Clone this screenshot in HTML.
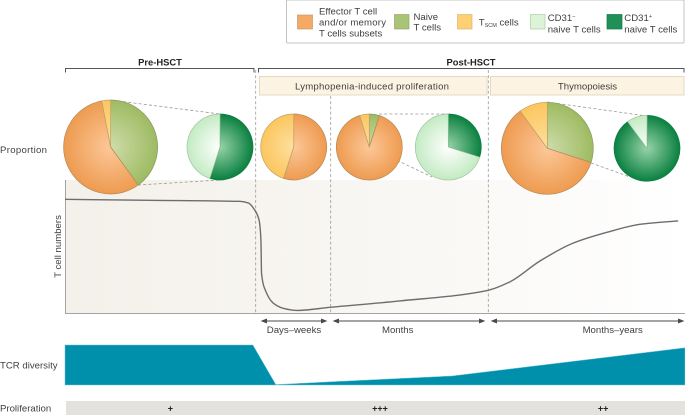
<!DOCTYPE html>
<html lang="en">
<head>
<meta charset="utf-8">
<title>T cell reconstitution after HSCT</title>
<style>
html,body{margin:0;padding:0;background:#fff;}
svg{display:block;font-family:"Liberation Sans",sans-serif;}
text{fill:#3f3f3f;font-size:9.6px;}
.b{font-weight:bold;fill:#222;font-size:9.4px;}
.dash{stroke:#9a9a96;stroke-width:.8;stroke-dasharray:3 2.2;fill:none;}
</style>
</head>
<body>
<svg id="chart" width="685" height="415" viewBox="0 0 685 415" xmlns="http://www.w3.org/2000/svg">
  <defs id="defs">
    <linearGradient id="bgGrad" x1="0" x2="1" y1="0" y2="0">
      <stop offset="0" stop-color="#f4f0ea"/>
      <stop offset=".45" stop-color="#f8f6f2"/>
      <stop offset=".72" stop-color="#fbfaf8"/>
      <stop offset="1" stop-color="#ffffff"/>
    </linearGradient>
  </defs>

  <g>
    <rect x="286.5" y="0" width="397.5" height="43" rx="1" fill="#fff" stroke="#c4c4c0" stroke-width="1"/>
    <rect x="297.5" y="15" width="15" height="14" fill="#f4a964" stroke="#c79a6b" stroke-width=".7"/>
    <text><tspan x="319" y="14.5">Effector T cell</tspan><tspan x="319" y="25.5" textLength="67">and/or memory</tspan><tspan x="319" y="36.5">T cells subsets</tspan></text>
    <rect x="394.5" y="14.5" width="14.5" height="14.5" fill="#a9c377" stroke="#93a96b" stroke-width=".7"/>
    <text><tspan x="413.5" y="20">Naive</tspan><tspan x="413.5" y="30.5">T cells</tspan></text>
    <rect x="457.5" y="14.5" width="14.5" height="14.5" fill="#fdd072" stroke="#dcb678" stroke-width=".7"/>
    <text x="478.7" y="25.5">T<tspan font-size="5.5" dy="1.5">SCM</tspan><tspan dy="-1.5"> cells</tspan></text>
    <rect x="530.5" y="14.5" width="14.5" height="14.5" fill="#dcf3d8" stroke="#a9cfa6" stroke-width=".7"/>
    <text><tspan x="547.7" y="21">CD31</tspan><tspan font-size="5.5" dy="-3">–</tspan><tspan x="547.7" y="32.5">naive T cells</tspan></text>
    <rect x="607" y="14.5" width="15" height="14.5" fill="#1f9058" stroke="#107a45" stroke-width=".7"/>
    <text><tspan x="624.3" y="21">CD31</tspan><tspan font-size="5.5" dy="-3">+</tspan><tspan x="624.3" y="32.5">naive T cells</tspan></text>
  </g>

  <g>
    <text class="b" x="160" y="65.5" text-anchor="middle">Pre-HSCT</text>
    <text class="b" x="471" y="65.5" text-anchor="middle">Post-HSCT</text>
    <path d="M65.5 72.5V68.5H254V72.5" fill="none" stroke="#555" stroke-width="1"/>
    <path d="M258.5 72.5V68.5H684V72.5" fill="none" stroke="#555" stroke-width="1"/>
    <rect x="259.5" y="76.5" width="227.5" height="18.5" fill="#fdf3e2" stroke="#ddd2b8" stroke-width=".8"/>
    <text x="295" y="89.5" textLength="154">Lymphopenia-induced proliferation</text>
    <rect x="490.5" y="76.5" width="193.5" height="18.5" fill="#fdf3e2" stroke="#ddd2b8" stroke-width=".8"/>
    <text x="587.5" y="89.5" text-anchor="middle">Thymopoiesis</text>
  </g>

  <text x="0" y="153" textLength="47">Proportion</text>
  <text transform="translate(61 246.5) rotate(-90)" text-anchor="middle">T cell numbers</text>
  <text x="0" y="368.5">TCR diversity</text>
  <text x="0" y="411.5">Proliferation</text>

  <rect x="65" y="180" width="620" height="133.5" fill="url(#bgGrad)"/>
  <path d="M65.5 180V313.5H685" fill="none" stroke="#a3a3a0" stroke-width="1"/>

  <g>
    <path class="dash" d="M255.7 70V313"/>
    <path class="dash" d="M330.7 96V313"/>
    <path class="dash" d="M488.3 70V313"/>
  </g>

  <g>
    <path class="dash" d="M118 101L220 114"/>
    <path class="dash" d="M138 185L220 180"/>
    <path class="dash" d="M379 114L448 114"/>
    <path class="dash" d="M369 147L432 177"/>
    <path class="dash" d="M547 102L647 116"/>
    <path class="dash" d="M591 163L630 177"/>
  </g>

  <g id="pies"></g>
  <g id="curve"></g>

  <g stroke="#4a4a4a" stroke-width="1" fill="#4a4a4a">
    <path d="M262 321H326M262 321l4.5-1.8v3.6zM326 321l-4.5-1.8v3.6z"/>
    <path d="M334 321H484M334 321l4.5-1.8v3.6zM484 321l-4.5-1.8v3.6z"/>
    <path d="M492 321H683M492 321l4.5-1.8v3.6zM683 321l-4.5-1.8v3.6z"/>
  </g>
  <text x="294" y="333" text-anchor="middle">Days–weeks</text>
  <text x="397.7" y="333" text-anchor="middle">Months</text>
  <text x="612.7" y="333" text-anchor="middle">Months–years</text>

  <g id="tcr"></g>

  <rect x="66" y="401" width="619" height="14" fill="#e3e2de"/>
  <g id="prolif"></g>

<script>
// T cell numbers over relative time (0-100)
const curveTime = [0, 13.7, 28.2, 29.6, 30.6, 31.3, 31.6, 31.7, 32.3, 33.6, 35.2, 37.4, 42.7, 54, 68, 71.8, 76.6, 81.9, 87.4, 92.7, 95.9, 98.9];
const curveCount = [85.5, 84.8, 84, 82.7, 77.5, 70, 55, 30.2, 17.6, 7.7, 3.9, 2.3, 4.6, 9.4, 17.1, 23.8, 39.3, 52.6, 60.8, 66.8, 68.3, 69.3];
// TCR diversity over relative time
const tcrTime = [0, 30.3, 34, 44.2, 62.4, 100];
const tcrDiversity = [100, 100, 1, 9, 22.5, 93];
// Proliferation grades
const prolifTime = [17, 50.8, 86.8];
const prolifLabels = ['+', '+++', '++'];
// Pie slices, clockwise from 12 o'clock
const preTotalCats = ['naive', 'effector', 'tscm'];
const preTotalVals = [40, 57, 3];
const preNaiveCats = ['cd31pos', 'cd31neg'];
const preNaiveVals = [55, 45];
const daysTotalCats = ['effector', 'tscm'];
const daysTotalVals = [55, 45];
const monthsTotalCats = ['naive', 'effector', 'tscm'];
const monthsTotalVals = [5, 90.3, 4.7];
const monthsNaiveCats = ['cd31pos', 'cd31neg'];
const monthsNaiveVals = [30, 70];
const yearsTotalCats = ['naive', 'effector', 'tscm'];
const yearsTotalVals = [30, 60, 10];
const yearsNaiveCats = ['cd31pos', 'cd31neg'];
const yearsNaiveVals = [90, 10];

const NS = 'http://www.w3.org/2000/svg';
const xScale = t => 65 + t * 6.2;
const yCount = v => 313.5 - v * 1.335;
const yTcr = v => 385 - v * 0.4;

const sliceColors = {
  effector: ['#fcc899', '#ee9b50', '#b58a58'],
  naive: ['#cfdcaa', '#9dbb62', '#8a9a60'],
  tscm: ['#fde0a0', '#fcc65e', '#c0a268'],
  cd31neg: ['#ffffff', '#c3ebc3', '#a0c4a0'],
  cd31pos: ['#97d3a8', '#0a8040', '#0f8045']
};

let gradId = 0;
function makeGradient(cx, cy, r, cat) {
  const g = document.createElementNS(NS, 'radialGradient');
  const id = 'g' + (gradId++);
  g.setAttribute('id', id);
  g.setAttribute('gradientUnits', 'userSpaceOnUse');
  g.setAttribute('cx', cx);
  g.setAttribute('cy', cy);
  g.setAttribute('r', r);
  [[0, sliceColors[cat][0]], [1, sliceColors[cat][1]]].forEach(function (s) {
    const st = document.createElementNS(NS, 'stop');
    st.setAttribute('offset', s[0]);
    st.setAttribute('stop-color', s[1]);
    g.appendChild(st);
  });
  document.getElementById('defs').appendChild(g);
  return id;
}

function drawPie(name, cx, cy, r, cats, vals) {
  const holder = document.getElementById('pies');
  const group = document.createElementNS(NS, 'g');
  
  
  holder.appendChild(group);
  const total = vals.reduce((a, b) => a + b, 0);
  let acc = 0;
  vals.forEach(function (v, i) {
    const a0 = acc / total * 2 * Math.PI;
    acc += v;
    const a1 = acc / total * 2 * Math.PI;
    const x0 = cx + r * Math.sin(a0), y0 = cy - r * Math.cos(a0);
    const x1 = cx + r * Math.sin(a1), y1 = cy - r * Math.cos(a1);
    const large = a1 - a0 > Math.PI ? 1 : 0;
    const p = document.createElementNS(NS, 'path');
    p.setAttribute('d', 'M' + cx + ' ' + cy + 'L' + x0 + ' ' + y0 + 'A' + r + ' ' + r + ' 0 ' + large + ' 1 ' + x1 + ' ' + y1 + 'Z');
    p.setAttribute('fill', 'url(#' + makeGradient(cx, cy, r, cats[i]) + ')');
    p.setAttribute('stroke', sliceColors[cats[i]][2]);
    p.setAttribute('stroke-width', '0.7');
    
    
    group.appendChild(p);
  });
}

drawPie('pie-pre-hsct-total', 110.6, 147, 47, preTotalCats, preTotalVals);
drawPie('pie-pre-hsct-naive', 220, 147, 33, preNaiveCats, preNaiveVals);
drawPie('pie-days-weeks-total', 293.7, 147, 33, daysTotalCats, daysTotalVals);
drawPie('pie-months-total', 369.3, 147, 33, monthsTotalCats, monthsTotalVals);
drawPie('pie-months-naive', 448.3, 147, 33, monthsNaiveCats, monthsNaiveVals);
drawPie('pie-years-total', 547.3, 148.3, 46, yearsTotalCats, yearsTotalVals);
drawPie('pie-years-naive', 647, 148.3, 33, yearsNaiveCats, yearsNaiveVals);

// T cell number line: monotone cubic through the data points
(function () {
  const xs = curveTime.map(xScale);
  const ys = curveCount.map(yCount);
  const n = xs.length;
  const sec = [];
  for (let i = 0; i < n - 1; i++) sec.push((ys[i + 1] - ys[i]) / (xs[i + 1] - xs[i]));
  const m = [sec[0]];
  for (let i = 1; i < n - 1; i++) {
    if (sec[i - 1] * sec[i] <= 0) { m.push(0); continue; }
    const h0 = xs[i] - xs[i - 1], h1 = xs[i + 1] - xs[i];
    const w0 = 2 * h1 + h0, w1 = h1 + 2 * h0;
    m.push((w0 + w1) / (w0 / sec[i - 1] + w1 / sec[i]));
  }
  m.push(sec[n - 2]);
  let d = 'M' + xs[0] + ' ' + ys[0];
  for (let i = 0; i < n - 1; i++) {
    const h = (xs[i + 1] - xs[i]) / 3;
    d += 'C' + (xs[i] + h) + ' ' + (ys[i] + m[i] * h) + ' ' + (xs[i + 1] - h) + ' ' + (ys[i + 1] - m[i + 1] * h) + ' ' + xs[i + 1] + ' ' + ys[i + 1];
  }
  const line = document.createElementNS(NS, 'path');
  line.setAttribute('d', d);
  line.setAttribute('fill', 'none');
  line.setAttribute('stroke', '#6d6d70');
  line.setAttribute('stroke-width', '1.4');
  line.setAttribute('stroke-linejoin', 'round');
  
  
  document.getElementById('curve').appendChild(line);
})();

// TCR diversity area
(function () {
  let d = 'M' + xScale(tcrTime[0]) + ' ' + yTcr(0);
  tcrTime.forEach(function (t, i) {
    d += 'L' + xScale(t) + ' ' + yTcr(tcrDiversity[i]);
  });
  d += 'L' + xScale(tcrTime[tcrTime.length - 1]) + ' ' + yTcr(0) + 'Z';
  const area = document.createElementNS(NS, 'path');
  area.setAttribute('d', d);
  area.setAttribute('fill', '#0090ac');
  area.setAttribute('stroke', '#6fc3d3');
  area.setAttribute('stroke-width', '0.5');
  
  
  document.getElementById('tcr').appendChild(area);
})();

// Proliferation markers
prolifTime.forEach(function (t, i) {
  const txt = document.createElementNS(NS, 'text');
  txt.setAttribute('x', xScale(t));
  txt.setAttribute('y', 411.5);
  txt.setAttribute('text-anchor', 'middle');
  txt.setAttribute('font-weight', 'bold');
  txt.setAttribute('style', 'fill:#222;font-size:9px');
  
  
  txt.textContent = prolifLabels[i];
  document.getElementById('prolif').appendChild(txt);
});
</script>
</svg>
</body>
</html>
